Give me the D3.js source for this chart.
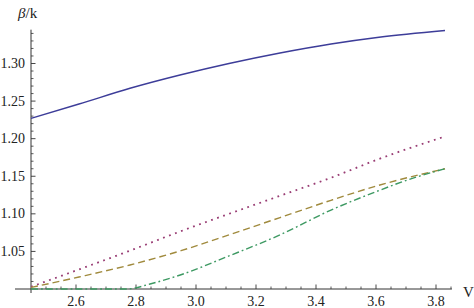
<!DOCTYPE html>
<html>
<head>
<meta charset="utf-8">
<script src="https://cdn.jsdelivr.net/npm/d3@7/dist/d3.min.js"></script>
<style>
html,body{margin:0;padding:0;background:#fff;}
svg{display:block;}
svg text{font-family:"Liberation Serif","Times New Roman",Times,serif;}
</style>
</head>
<body>
<svg id="chart" width="474" height="308"></svg>
<script>
// Data
const vCommon = [2.45, 2.61, 2.78, 2.95, 3.11, 3.28, 3.45, 3.61, 3.83];
const blue    = [1.227, 1.246, 1.267, 1.285, 1.300, 1.314, 1.326, 1.335, 1.344];
const red     = [1.003, 1.026, 1.051, 1.077, 1.100, 1.124, 1.148, 1.173, 1.203];
const yellow  = [1.002, 1.016, 1.032, 1.051, 1.072, 1.095, 1.118, 1.138, 1.160];
const vGreen  = [2.45, 2.61, 2.77, 2.85, 2.95, 3.11, 3.28, 3.45, 3.61, 3.69, 3.83];
const green   = [1.000, 1.000, 1.000, 1.007, 1.019, 1.044, 1.072, 1.105, 1.131, 1.143, 1.160];
const xTicks  = [2.6, 2.8, 3.0, 3.2, 3.4, 3.6, 3.8];
const yTicks  = [1.05, 1.10, 1.15, 1.20, 1.25, 1.30];
const xLabels = ["2.6", "2.8", "3.0", "3.2", "3.4", "3.6", "3.8"];
const yLabels = ["1.05", "1.10", "1.15", "1.20", "1.25", "1.30"];

const svg = d3.select("#chart");
const x = d3.scaleLinear().domain([2.45, 3.85]).range([31, 451]);
const y = d3.scaleLinear().domain([1.0, 1.30]).range([289, 63.5]);

const axisColor = "#333";

// x axis line (extends a little left of the y axis, like the original)
svg.append("line").attr("x1", 15).attr("x2", x(3.853)).attr("y1", y(1.0)).attr("y2", y(1.0))
  .attr("stroke", axisColor).attr("stroke-width", 1);
// y axis line
svg.append("line").attr("x1", x(2.45)).attr("x2", x(2.45)).attr("y1", y(1.345)).attr("y2", y(1.0) + 4)
  .attr("stroke", axisColor).attr("stroke-width", 1);

// x ticks: major + minor (every 0.05)
const xMinor = d3.range(2.50, 3.851, 0.05).map(d => +d.toFixed(2)).filter(d => !xTicks.some(t => Math.abs(t - d) < 1e-6));
svg.append("g").selectAll("line").data(xMinor).join("line")
  .attr("x1", d => x(d)).attr("x2", d => x(d)).attr("y1", y(1.0)).attr("y2", y(1.0) - 2.5)
  .attr("stroke", axisColor).attr("stroke-width", 0.8);
svg.append("g").selectAll("line").data(xTicks).join("line")
  .attr("x1", d => x(d)).attr("x2", d => x(d)).attr("y1", y(1.0)).attr("y2", y(1.0) - 4.5)
  .attr("stroke", axisColor).attr("stroke-width", 0.9);
svg.append("g").selectAll("text").data(xTicks).join("text")
  .attr("x", d => x(d)).attr("y", 305.5).attr("text-anchor", "middle")
  .attr("fill", "#222")
  .attr("font-size", 14).text((d, i) => xLabels[i]);

// y ticks: major + minor (every 0.01)
const yMinor = d3.range(1.01, 1.345, 0.01).map(d => +d.toFixed(2)).filter(d => !yTicks.some(t => Math.abs(t - d) < 1e-6));
svg.append("g").selectAll("line").data(yMinor).join("line")
  .attr("x1", x(2.45)).attr("x2", x(2.45) + 2.5).attr("y1", d => y(d)).attr("y2", d => y(d))
  .attr("stroke", axisColor).attr("stroke-width", 0.8);
svg.append("g").selectAll("line").data(yTicks).join("line")
  .attr("x1", x(2.45)).attr("x2", x(2.45) + 4.5).attr("y1", d => y(d)).attr("y2", d => y(d))
  .attr("stroke", axisColor).attr("stroke-width", 0.9);
svg.append("g").selectAll("text").data(yTicks).join("text")
  .attr("x", 25).attr("y", d => y(d) + 4.5).attr("text-anchor", "end")
  .attr("fill", "#222")
  .attr("font-size", 14).text((d, i) => yLabels[i]);

// axis labels
const yl = svg.append("text").attr("x", 18).attr("y", 18).attr("font-size", 15)
  .attr("fill", "#222");
yl.append("tspan").attr("font-style", "italic").text("β");
yl.append("tspan").text("/k");
svg.append("text").attr("x", 463).attr("y", 297).attr("font-size", 15)
  .attr("fill", "#222").text("V");

// curves
const line = d3.line().x(d => x(d[0])).y(d => y(d[1])).curve(d3.curveMonotoneX);
const series = [
  {v: vCommon, val: blue, color: "#3d3d99", dash: null, w: 1.5},
  {v: vCommon, val: red, color: "#993d74", dash: "1.8,4.6", w: 1.8},
  {v: vCommon, val: yellow, color: "#a08a3d", dash: "7,4", w: 1.4},
  {v: vGreen, val: green, color: "#3d9962", dash: "7,3,1.8,3", w: 1.4}
];
series.forEach(s => {
  svg.append("path").datum(s.v.map((d, i) => [d, s.val[i]]))
    .attr("d", line).attr("fill", "none").attr("stroke", s.color)
    .attr("stroke-width", s.w).attr("stroke-dasharray", s.dash);
});
</script>
</body>
</html>
